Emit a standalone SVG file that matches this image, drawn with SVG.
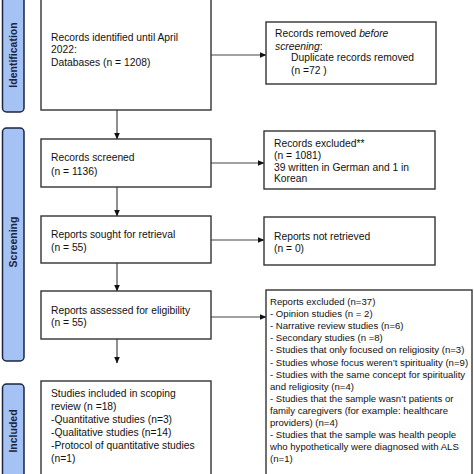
<svg xmlns="http://www.w3.org/2000/svg" width="474" height="474" viewBox="0 0 474 474">
<defs>
<marker id="ah" markerWidth="7" markerHeight="6" refX="6.5" refY="3" orient="auto" markerUnits="userSpaceOnUse">
<path d="M0,0 L7,3 L0,6 Z" fill="#111"/>
</marker>
<style>
.phase{fill:#a4c2f4;stroke:#1c2540;stroke-width:1.5}
.pt{font-family:"Liberation Sans",Arial,sans-serif;font-size:10.5px;font-weight:bold;fill:#1c2540;text-anchor:middle}
.box{fill:#fff;stroke:#333;stroke-width:1.4}
.t{font-family:"Liberation Sans",Arial,sans-serif;font-size:10.3px;fill:#111}
.ts{font-family:"Liberation Sans",Arial,sans-serif;font-size:9.6px;fill:#111}
.c{stroke:#444;stroke-width:1.2;fill:none;marker-end:url(#ah)}
</style>
</defs>
<rect width="474" height="474" fill="#fff"/>

<g id="phase-identification">
<rect class="phase" x="2.5" y="-8" width="21.5" height="120" rx="4"/>
<text class="pt" transform="translate(17,55) rotate(-90)">Identification</text>
</g>
<g id="phase-screening">
<rect class="phase" x="2.5" y="128" width="21.5" height="233" rx="4"/>
<text class="pt" transform="translate(17,242) rotate(-90)">Screening</text>
</g>
<g id="phase-included">
<rect class="phase" x="2.5" y="384" width="21.5" height="100" rx="4"/>
<text class="pt" transform="translate(17,431) rotate(-90)">Included</text>
</g>

<g id="connectors">
<line class="c" x1="211" y1="55" x2="266" y2="55"/>
<line class="c" x1="117" y1="110" x2="117" y2="139"/>
<line class="c" x1="211" y1="163" x2="264" y2="163"/>
<line class="c" x1="117" y1="187" x2="117" y2="216"/>
<line class="c" x1="211" y1="240" x2="264" y2="240"/>
<line class="c" x1="117" y1="263" x2="117" y2="291"/>
<line class="c" x1="211" y1="317" x2="266" y2="317"/>
<line class="c" x1="117" y1="339" x2="117" y2="363"/>
</g>

<g id="records-identified">
<rect class="box" x="41" y="-3" width="170" height="113"/>
<text class="t" x="51" y="40.5">Records identified until April</text>
<text class="t" x="51" y="53">2022:</text>
<text class="t" x="51" y="65.5">Databases (n = 1208)</text>
</g>
<g id="records-removed">
<rect class="box" x="266" y="22" width="170" height="62"/>
<text class="t" x="275" y="37">Records removed <tspan font-style="italic">before</tspan></text>
<text class="t" x="275" y="49.5" font-style="italic">screening<tspan font-style="normal">:</tspan></text>
<text class="t" x="291" y="61">Duplicate records removed</text>
<text class="t" x="291" y="73.5">(n =72 )</text>
</g>
<g id="records-screened">
<rect class="box" x="41" y="139" width="170" height="48"/>
<text class="t" x="51" y="161">Records screened</text>
<text class="t" x="51" y="174.5">(n = 1136)</text>
</g>
<g id="records-excluded">
<rect class="box" x="264" y="131" width="171" height="58"/>
<text class="t" x="274" y="147">Records excluded**</text>
<text class="t" x="274" y="159">(n = 1081)</text>
<text class="t" x="274" y="170.5">39 written in German and 1 in</text>
<text class="t" x="274" y="182">Korean</text>
</g>
<g id="reports-sought">
<rect class="box" x="41" y="216" width="170" height="47"/>
<text class="t" x="51" y="238">Reports sought for retrieval</text>
<text class="t" x="51" y="250.5">(n = 55)</text>
</g>
<g id="reports-not-retrieved">
<rect class="box" x="264" y="217" width="171" height="48"/>
<text class="t" x="274" y="240">Reports not retrieved</text>
<text class="t" x="274" y="251.5">(n = 0)</text>
</g>
<g id="reports-assessed">
<rect class="box" x="41" y="291" width="170" height="48"/>
<text class="t" x="51" y="314">Reports assessed for eligibility</text>
<text class="t" x="51" y="325.5">(n = 55)</text>
</g>
<g id="reports-excluded">
<rect class="box" x="266" y="290" width="206" height="195"/>
<text class="ts" x="270" y="305">Reports excluded (n=37)</text>
<text class="ts" x="270" y="317.1">- Opinion studies (n = 2)</text>
<text class="ts" x="270" y="329.2">- Narrative review studies (n=6)</text>
<text class="ts" x="270" y="341.3">- Secondary studies (n =8)</text>
<text class="ts" x="270" y="353.4">- Studies that only focused on religiosity (n=3)</text>
<text class="ts" x="270" y="365.5">- Studies whose focus weren’t spirituality (n=9)</text>
<text class="ts" x="270" y="377.6">- Studies with the same concept for spirituality</text>
<text class="ts" x="270" y="389.7">and religiosity (n=4)</text>
<text class="ts" x="270" y="401.8">- Studies that the sample wasn’t patients or</text>
<text class="ts" x="270" y="413.9">family caregivers (for example: healthcare</text>
<text class="ts" x="270" y="426">providers) (n=4)</text>
<text class="ts" x="270" y="438.1">- Studies that the sample was health people</text>
<text class="ts" x="270" y="450.2">who hypothetically were diagnosed with ALS</text>
<text class="ts" x="270" y="462.3">(n=1)</text>
</g>
<g id="studies-included">
<rect class="box" x="41" y="381" width="170" height="100"/>
<text class="t" x="51" y="397">Studies included in scoping</text>
<text class="t" x="51" y="409.9">review (n =18)</text>
<text class="t" x="51" y="422.8">-Quantitative studies (n=3)</text>
<text class="t" x="51" y="435.7">-Qualitative studies (n=14)</text>
<text class="t" x="51" y="448.6">-Protocol of quantitative studies</text>
<text class="t" x="51" y="461.5">(n=1)</text>
</g>
</svg>
